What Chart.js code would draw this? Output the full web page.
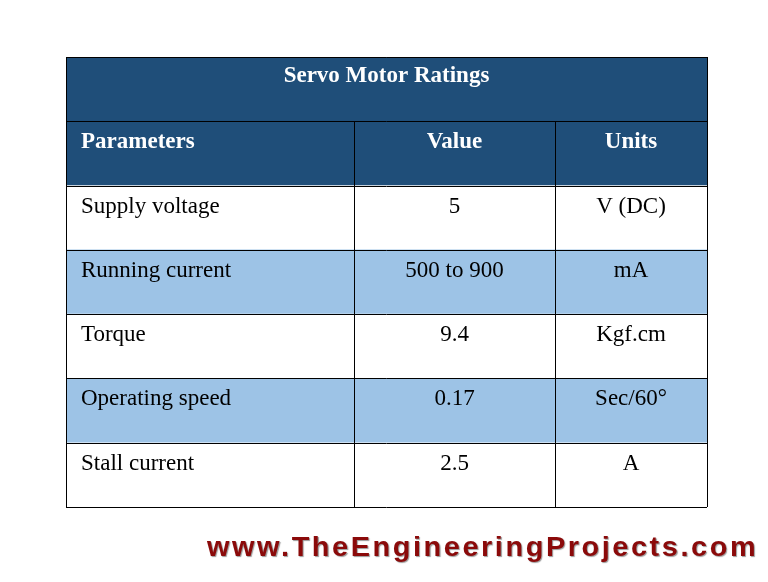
<!DOCTYPE html>
<html>
<head>
<meta charset="utf-8">
<script src="https://cdn.jsdelivr.net/npm/chart.js@4"></script>
<style>
  html, body { margin: 0; padding: 0; background: #fff; }
  #wrap { position: relative; width: 768px; height: 582px; }
  #footer {
    position: absolute; left: 207px; top: 532px;
    font: bold 27px "Liberation Sans", Arial, sans-serif;
    color: #8B0A0A; letter-spacing: 2.4px; white-space: nowrap;
    transform: scaleX(1.07); transform-origin: left top;
    text-shadow: 1px 1px 1px #999;
  }
</style>
</head>
<body>
<div id="wrap">
  <canvas id="tbl" width="768" height="582"></canvas>
  <div id="footer">www.TheEngineeringProjects.com</div>
</div>
<script>
"use strict";

var title      = 'Servo Motor Ratings';
var headers    = ['Parameters', 'Value', 'Units'];
var parameters = ['Supply voltage', 'Running current', 'Torque', 'Operating speed', 'Stall current'];
var values     = ['5', '500 to 900', '9.4', '0.17', '2.5'];
var units      = ['V (DC)', 'mA', 'Kgf.cm', 'Sec/60°', 'A'];
var colEdges   = [0, 288, 489, 641];

var DARK  = '#1F4E79';
var LIGHT = '#9DC3E6';

var rowLabels = ['title', 'header'].concat(parameters);
var rowColors = rowLabels.map(function (r, i) {
  if (i < 2) return DARK;
  return (i % 2 === 1) ? LIGHT : '#ffffff';
});

var tablePlugin = {
  id: 'tablePlugin',
  afterDatasetsDraw: function (chart) {
    var ctx = chart.ctx, x = chart.scales.x;
    var area = chart.chartArea;
    var rowH = (area.bottom - area.top) / rowLabels.length;
    function top(i) { return area.top + i * rowH; }
    ctx.save();
    // grid lines
    ctx.strokeStyle = '#000'; ctx.lineWidth = 1;
    ctx.beginPath();
    for (var i = 0; i <= rowLabels.length; i++) {
      var yy = Math.round(top(i)) + 0.5;
      ctx.moveTo(area.left, yy); ctx.lineTo(area.right, yy);
    }
    colEdges.forEach(function (c, j) {
      var xx = Math.round(x.getPixelForValue(c)) + 0.5;
      var start = (j === 0 || j === colEdges.length - 1) ? area.top : top(1);
      ctx.moveTo(xx, start); ctx.lineTo(xx, area.bottom);
    });
    ctx.stroke();

    function cellText(txt, col, row, bold, color) {
      ctx.font = (bold ? 'bold ' : '') + '23px "Liberation Serif", "Times New Roman", serif';
      ctx.fillStyle = color;
      ctx.textBaseline = 'middle';
      var cy = top(row) + 21;
      if (col === 0) {
        ctx.textAlign = 'left';
        ctx.fillText(txt, x.getPixelForValue(colEdges[0]) + 15, cy);
      } else {
        ctx.textAlign = 'center';
        ctx.fillText(txt, (x.getPixelForValue(colEdges[col]) + x.getPixelForValue(colEdges[col + 1])) / 2, cy);
      }
    }
    ctx.font = 'bold 23px "Liberation Serif", serif';
    ctx.fillStyle = '#fff'; ctx.textAlign = 'center'; ctx.textBaseline = 'middle';
    ctx.fillText(title, (area.left + area.right) / 2, top(0) + 19);
    headers.forEach(function (h, c) { cellText(h, c, 1, true, '#fff'); });
    parameters.forEach(function (p, r) {
      cellText(p, 0, r + 2, false, '#000');
      cellText(values[r], 1, r + 2, false, '#000');
      cellText(units[r], 2, r + 2, false, '#000');
    });
    ctx.restore();
  }
};

new Chart(document.getElementById('tbl'), {
  type: 'bar',
  data: {
    labels: rowLabels,
    datasets: [{
      data: rowLabels.map(function () { return [colEdges[0], colEdges[colEdges.length - 1]]; }),
      backgroundColor: rowColors,
      borderWidth: 0,
      barPercentage: 1,
      categoryPercentage: 1
    }]
  },
  options: {
    indexAxis: 'y',
    responsive: false,
    animation: false,
    layout: { padding: { left: 66, right: 61, top: 57, bottom: 75 } },
    plugins: { legend: { display: false }, tooltip: { enabled: false } },
    scales: {
      x: { type: 'linear', min: colEdges[0], max: colEdges[colEdges.length - 1], display: false },
      y: { type: 'category', display: false, offset: true, grid: { offset: true } }
    }
  },
  plugins: [tablePlugin]
});
</script>
</body>
</html>
